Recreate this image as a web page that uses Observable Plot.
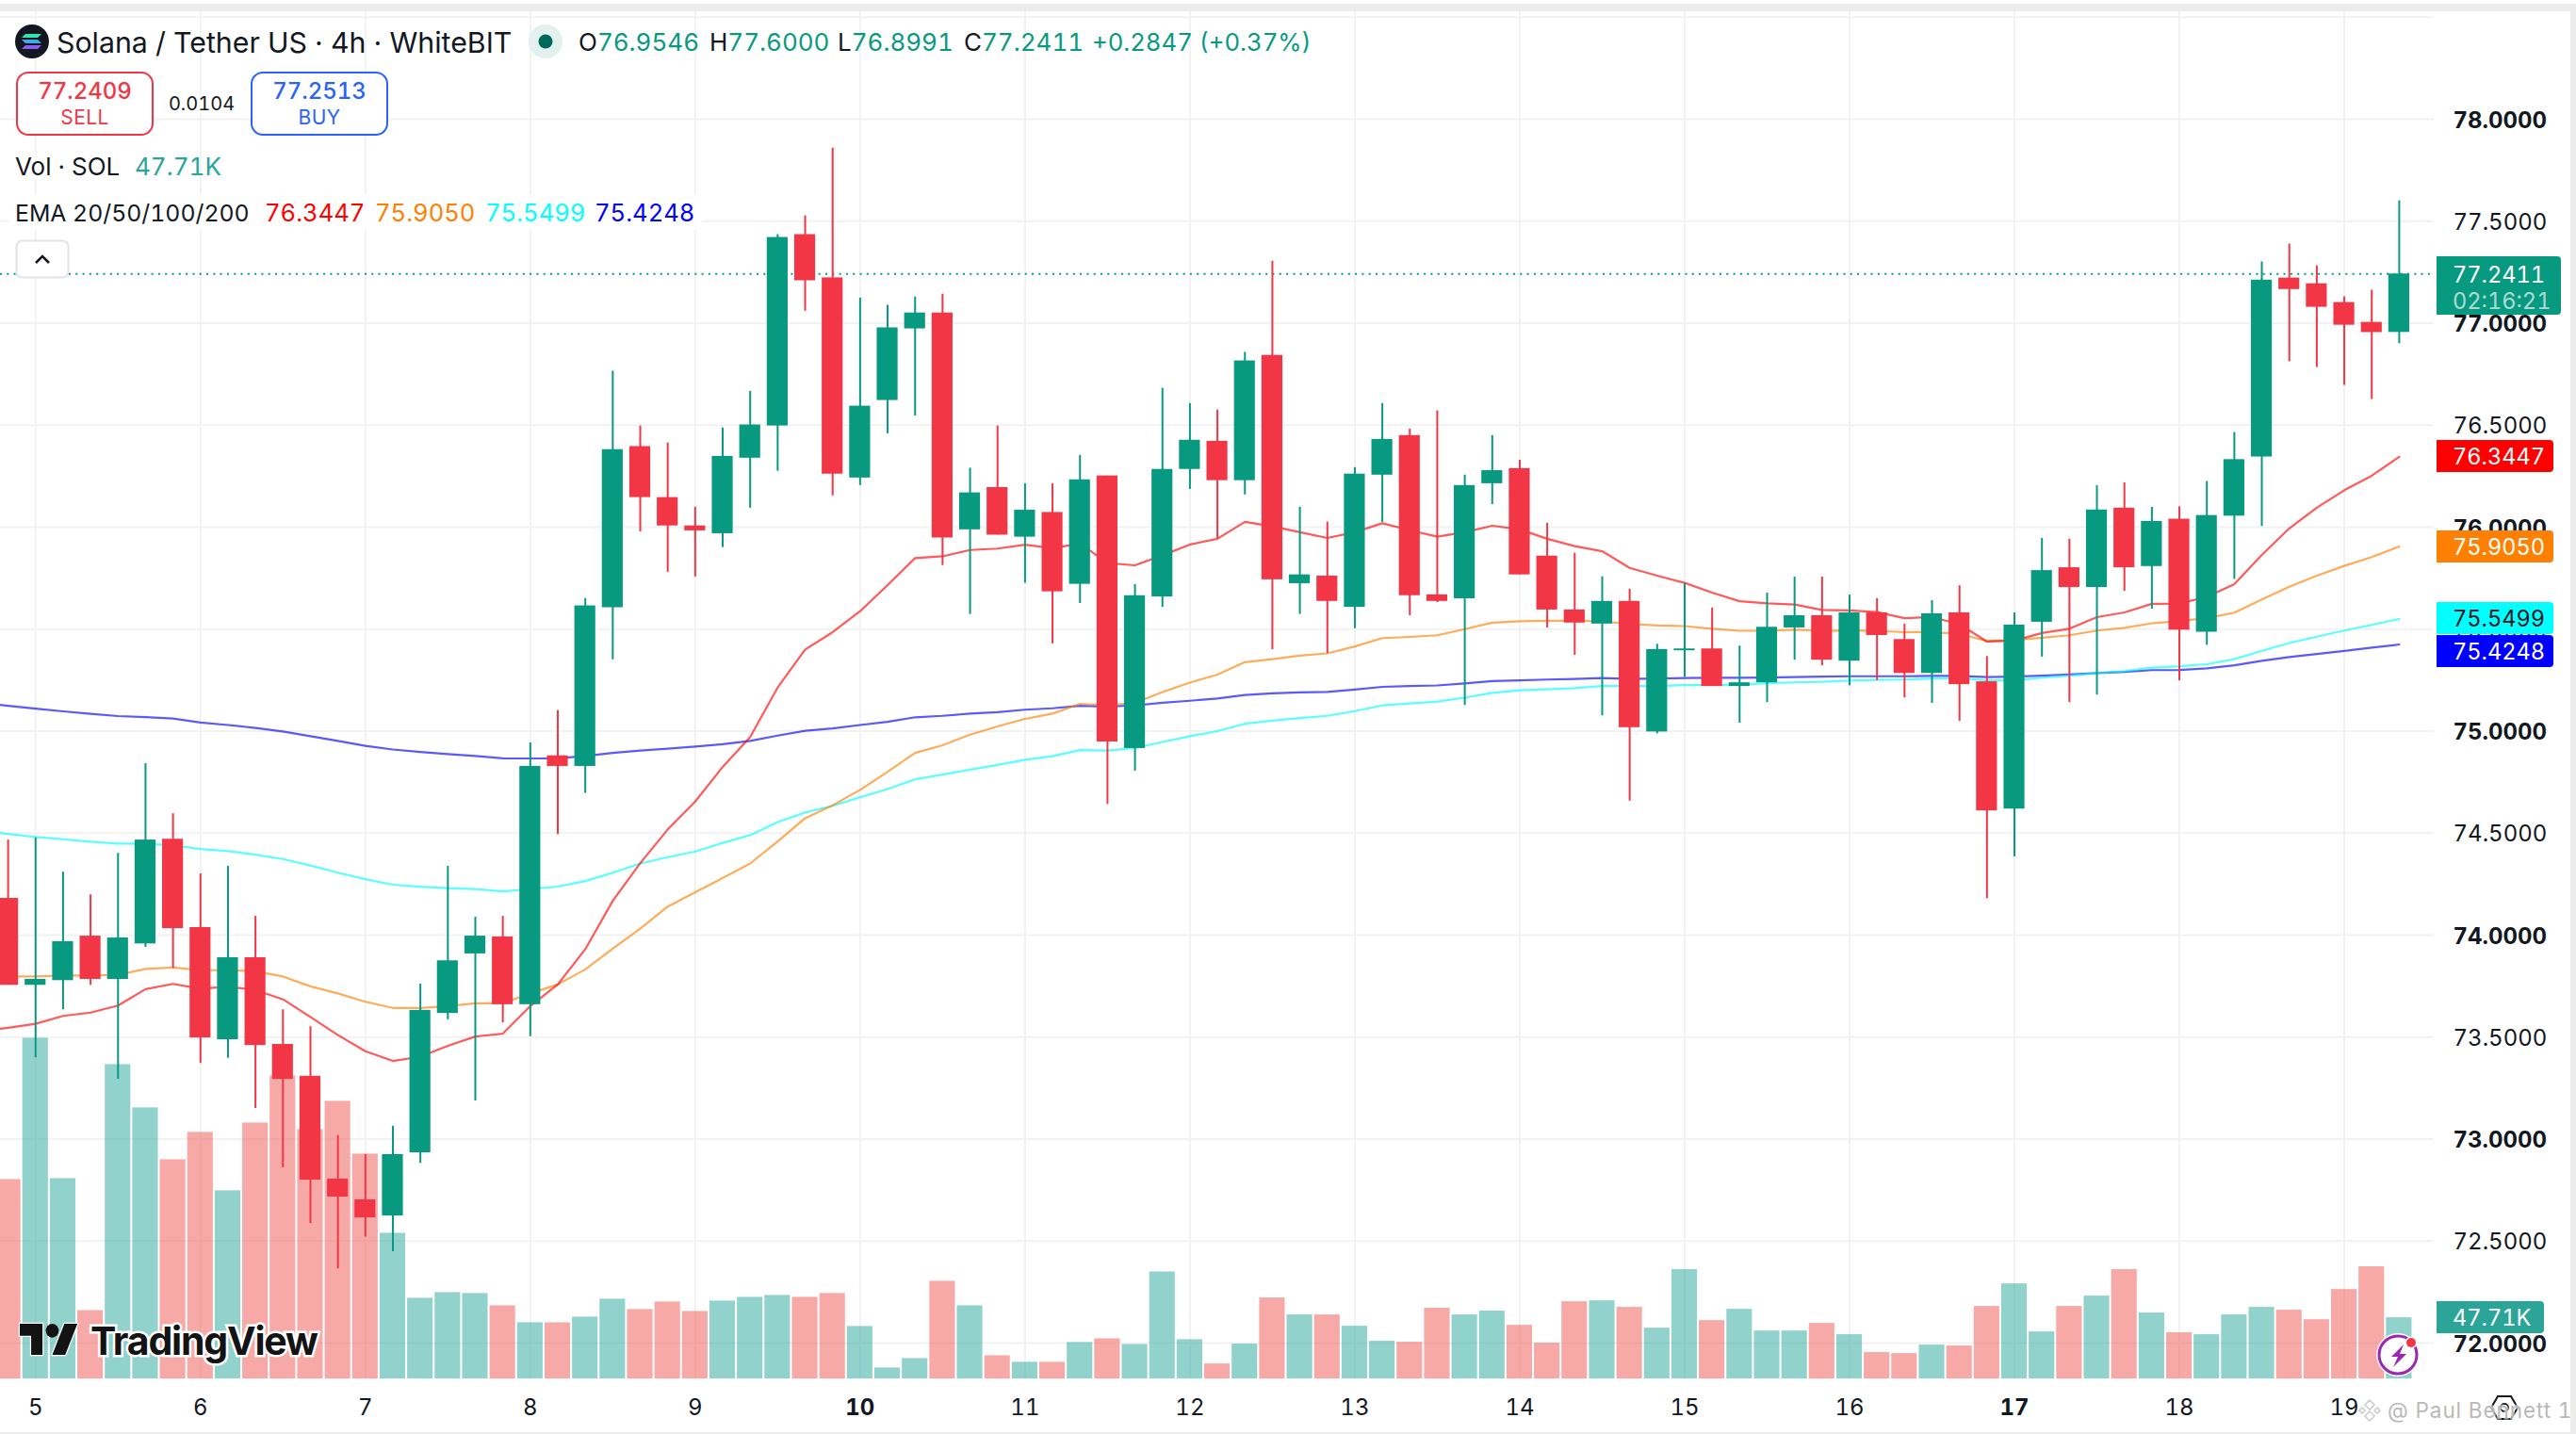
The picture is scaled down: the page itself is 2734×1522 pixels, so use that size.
<!DOCTYPE html>
<html>
<head>
<meta charset="utf-8">
<script src="https://cdn.jsdelivr.net/npm/d3@7"></script>
<script src="https://cdn.jsdelivr.net/npm/@observablehq/plot@0.6"></script>
<style>
html,body{margin:0;padding:0;background:#fff;overflow:hidden}
#page{position:relative;width:2734px;height:1522px;overflow:hidden;font-family:Inter,"Noto Sans",sans-serif;color:#131722;background:#fff;font-variant-numeric:tabular-nums;font-feature-settings:"tnum"}
#page svg text{font-variant-numeric:tabular-nums;font-feature-settings:"tnum"}
#page svg.plot{position:absolute;left:0;top:0;background:transparent}
.a{position:absolute;white-space:nowrap;line-height:1}
.band{position:absolute;background:#ececec}
.box{position:absolute;box-sizing:border-box;border:2.5px solid;border-radius:13px;background:#fff;text-align:center;top:76px;height:68px;width:146px}
.tag{position:absolute;left:2586px;height:34px;width:124px;border-radius:0 4px 4px 0;color:#fff;font-size:23.6px;line-height:36px;padding-left:17px;box-sizing:border-box}
</style>
</head>
<body>
<div id="page"></div>
<script>
const dayLabels = ["5","6","7","8","9","10","11","12","13","14","15","16","17","18","19"];
const boldDays = ["10","17"];
const priceTicksMajor = [78,77,76,75,74,73,72];
const priceTicksMinor = [77.5,76.5,75.5,74.5,73.5,72.5];
const extraGrid = [78.5];

const opens = [74.180,73.754,73.777,73.995,73.783,73.957,74.470,74.037,73.487,73.889,73.464,73.308,72.804,72.702,72.623,72.933,73.616,73.908,73.991,73.659,
74.879,74.827,75.605,76.395,76.145,76.006,75.968,76.338,76.496,77.434,77.222,76.241,76.621,76.972,77.050,75.987,76.194,75.951,76.072,75.720,
76.251,74.915,75.658,76.283,76.421,76.228,76.842,75.723,75.760,75.607,76.255,76.449,75.668,75.649,76.213,76.287,75.858,75.594,75.525,75.636,
74.996,75.394,75.403,75.219,75.237,75.506,75.566,75.343,75.580,75.449,75.283,75.580,75.242,74.618,75.534,75.801,75.704,76.093,75.807,76.039,
75.485,76.054,76.344,77.221,77.193,77.101,77.004,76.9546];
const closes = [73.754,73.783,73.968,73.783,73.986,74.466,74.032,73.496,73.889,73.459,73.293,72.799,72.716,72.614,72.924,73.631,73.874,73.995,73.659,74.827,
74.827,75.614,76.380,76.145,76.006,75.982,76.347,76.501,77.420,77.208,76.260,76.593,76.977,77.050,75.947,76.168,75.961,76.083,75.683,76.232,
74.947,75.664,76.283,76.426,76.228,76.815,75.742,75.766,75.636,76.260,76.430,75.664,75.636,76.204,76.277,75.766,75.594,75.530,75.636,75.017,
75.400,75.403,75.219,75.237,75.509,75.566,75.348,75.580,75.469,75.283,75.575,75.228,74.609,75.520,75.787,75.704,76.084,75.801,76.028,75.495,
76.057,76.331,77.211,77.165,77.078,76.990,76.954,77.2411];
const highs = [74.466,74.477,74.309,74.198,74.401,74.841,74.595,74.300,74.337,74.092,73.634,73.551,73.017,72.924,73.063,73.760,74.337,74.088,74.092,74.942,
75.101,75.650,76.765,76.496,76.413,76.098,76.486,76.666,77.434,77.526,77.858,77.123,77.088,77.128,77.142,76.289,76.496,76.213,76.213,76.352,
76.251,75.719,76.681,76.606,76.574,76.857,77.304,76.098,76.025,76.292,76.606,76.481,76.570,76.255,76.449,76.328,76.019,75.872,75.757,75.696,
75.426,75.723,75.603,75.417,75.677,75.755,75.755,75.667,75.649,75.524,75.640,75.713,75.366,75.580,75.945,75.941,76.203,76.217,76.097,76.100,
76.224,76.464,77.300,77.388,77.281,77.129,77.162,77.6000];
const lows = [73.754,73.399,73.634,73.754,73.293,73.940,73.837,73.371,73.396,73.150,72.860,72.586,72.364,72.520,72.448,72.881,73.585,73.187,73.570,73.502,
74.493,74.695,75.350,75.977,75.779,75.756,75.900,76.093,76.274,77.059,76.154,76.204,76.458,76.545,75.812,75.572,75.961,75.725,75.428,75.626,
74.641,74.804,75.607,76.185,75.943,76.158,75.400,75.572,75.381,75.502,76.023,75.566,75.630,75.126,76.111,75.766,75.506,75.372,75.075,74.657,
74.987,75.265,75.219,75.039,75.140,75.348,75.320,75.223,75.248,75.163,75.136,75.048,74.179,74.383,75.363,75.140,75.177,75.686,75.598,75.246,
75.421,75.744,76.004,76.811,76.783,76.695,76.626,76.8991];
const volumesK = [155.4,265.5,156.1,53.3,244.9,211.2,170.8,192.1,146.6,199.4,236.1,194.3,216.3,175.2,113.5,62.9,67.3,66.6,57.0,43.8,
43.8,48.2,62.2,54.1,60.0,52.6,60.7,63.6,65.1,63.6,66.6,40.9,8.6,15.9,76.1,57.0,18.1,13.0,13.0,28.4,
31.3,26.9,83.4,30.6,11.7,27.2,63.1,49.9,49.9,41.1,29.4,28.6,55.1,49.9,52.9,41.8,27.9,60.2,60.9,55.8,
39.6,85.2,45.5,54.3,37.4,37.4,43.3,34.5,20.6,19.8,26.4,25.7,56.5,74.1,36.7,56.5,64.6,85.2,51.4,36.0,
34.5,49.9,55.8,53.6,46.2,69.7,87.4,47.71];
const ema20 = [73.546,73.565,73.604,73.620,73.655,73.735,73.761,73.737,73.747,73.731,73.685,73.599,73.510,73.431,73.383,73.404,73.457,73.503,73.517,73.652,
73.758,73.931,74.168,74.353,74.518,74.655,74.825,74.971,75.214,75.400,75.485,75.588,75.716,75.848,75.857,75.888,75.895,75.914,75.897,75.920,
75.824,75.813,75.862,75.915,75.943,76.026,76.004,75.975,75.947,75.975,76.019,75.985,75.953,75.975,76.007,75.989,75.943,75.907,75.882,75.800,
75.762,75.727,75.679,75.637,75.626,75.621,75.594,75.592,75.584,75.554,75.559,75.524,75.439,75.444,75.481,75.502,75.559,75.582,75.624,75.625,
75.658,75.721,75.864,75.994,76.095,76.181,76.252,76.3447];
const ema50 = [73.797,73.797,73.802,73.802,73.805,73.834,73.841,73.828,73.828,73.823,73.797,73.749,73.714,73.673,73.643,73.643,73.652,73.666,73.666,73.714,
73.758,73.832,73.934,74.032,74.140,74.210,74.280,74.351,74.459,74.573,74.636,74.712,74.801,74.893,74.931,74.983,75.023,75.060,75.086,75.134,
75.126,75.139,75.192,75.238,75.277,75.338,75.353,75.370,75.381,75.415,75.456,75.462,75.470,75.500,75.532,75.539,75.541,75.541,75.538,75.526,
75.518,75.515,75.502,75.492,75.492,75.497,75.492,75.494,75.492,75.485,75.486,75.476,75.442,75.446,75.458,75.470,75.493,75.506,75.529,75.540,
75.554,75.581,75.645,75.708,75.762,75.810,75.853,75.9050];
const ema100 = [74.496,74.481,74.470,74.458,74.449,74.449,74.440,74.422,74.412,74.394,74.373,74.341,74.306,74.274,74.247,74.237,74.230,74.226,74.214,74.226,
74.238,74.265,74.306,74.351,74.382,74.410,74.452,74.490,74.554,74.601,74.634,74.676,74.716,74.764,74.787,74.811,74.834,74.860,74.877,74.907,
74.905,74.917,74.947,74.975,75.000,75.036,75.051,75.064,75.075,75.098,75.126,75.136,75.145,75.164,75.188,75.200,75.205,75.211,75.221,75.221,
75.221,75.226,75.226,75.228,75.235,75.239,75.242,75.248,75.251,75.253,75.258,75.260,75.249,75.249,75.262,75.272,75.285,75.294,75.311,75.318,
75.328,75.353,75.394,75.432,75.463,75.493,75.521,75.5499];
const ema200 = [75.124,75.110,75.097,75.085,75.074,75.069,75.062,75.042,75.030,75.016,74.998,74.975,74.952,74.928,74.910,74.898,74.887,74.878,74.867,74.866,
74.867,74.878,74.893,74.905,74.914,74.924,74.936,74.952,74.978,75.002,75.013,75.030,75.046,75.068,75.075,75.086,75.093,75.105,75.112,75.124,
75.120,75.126,75.139,75.149,75.160,75.177,75.185,75.190,75.192,75.204,75.217,75.221,75.224,75.234,75.245,75.249,75.253,75.256,75.260,75.256,
75.258,75.260,75.262,75.262,75.263,75.265,75.267,75.269,75.269,75.269,75.271,75.271,75.265,75.267,75.272,75.278,75.285,75.290,75.299,75.300,
75.308,75.323,75.345,75.363,75.378,75.393,75.409,75.4248];
// EMA readings for the bar just left of the picture edge, so the lines run off the left side
const emaBefore = {k: -1, ema20: 73.53, ema50: 73.80, ema100: 74.51, ema200: 75.14};
const lastPrice = 77.2411;
const volumeBase = 71.824;   // price level the volume pane sits on
const priceUnitsPerK = 0.006293;

const UP = "#089981", DOWN = "#f23645", VOL_UP = "#26a69a", VOL_DOWN = "#ef5350", INK = "#131722", GRID = "#f2f2f2";
const FONT = 'Inter, "Noto Sans", sans-serif';

const bars = opens.map((open, k) => ({k, open, close: closes[k], high: highs[k], low: lows[k],
  vol: volumesK[k], ema20: ema20[k], ema50: ema50[k], ema100: ema100[k], ema200: ema200[k],
  up: closes[k] >= open}));
const emaRows = [emaBefore, ...bars];
const dayTick = d => 1 + 6 * dayLabels.indexOf(d);
const dayFormat = k => dayLabels[(k - 1) / 6];
const dayTicks = dayLabels.filter(d => !boldDays.includes(d)).map(dayTick);
const boldTicks = boldDays.map(dayTick);
const fmt = d3.format(".4f");
const axisCommon = {tickSize: 0, fontSize: 24, fontFamily: FONT, label: null};

const emaLine = (key, stroke) => Plot.line(emaRows, {x: "k", y: key, stroke, strokeOpacity: 0.65, strokeWidth: 2.2, curve: "linear"});

const chart = Plot.plot({
  width: 2734, height: 1522,
  marginTop: 12, marginRight: 151, marginBottom: 59, marginLeft: 0,
  style: {background: "transparent", overflow: "hidden"},
  x: {domain: [0, 87], range: [8.1, 2545.9], axis: null},
  y: {domain: [72, 78], range: [1425, 126], axis: null},
  marks: [
    Plot.gridX([...dayTicks, ...boldTicks], {stroke: GRID, strokeOpacity: 1, strokeWidth: 2}),
    Plot.gridY([...extraGrid, ...priceTicksMajor, ...priceTicksMinor], {stroke: GRID, strokeOpacity: 1, strokeWidth: 2}),
    Plot.rect(bars, {x1: d => d.k - 0.465, x2: d => d.k + 0.465, y1: volumeBase,
      y2: d => volumeBase + d.vol * priceUnitsPerK,
      fill: d => d.up ? VOL_UP : VOL_DOWN, fillOpacity: 0.5}),
    emaLine("ema200", "#0000ff"),
    emaLine("ema100", "#00ffff"),
    emaLine("ema50", "#ff8000"),
    emaLine("ema20", "#ff0000"),
    Plot.ruleY([lastPrice], {stroke: UP, strokeWidth: 2, strokeDasharray: "2,5.3"}),
    Plot.ruleX(bars, {x: "k", y1: "low", y2: "high", stroke: d => d.up ? UP : DOWN, strokeWidth: 2}),
    Plot.rect(bars, {x1: d => d.k - 0.38, x2: d => d.k + 0.38,
      y1: d => Math.min(d.open, d.close), y2: d => Math.max(d.open, d.close),
      fill: d => d.up ? UP : DOWN}),
    Plot.axisY(priceTicksMinor, {...axisCommon, anchor: "right", tickPadding: 20, dy: 1.5, tickFormat: fmt, fill: INK}),
    Plot.axisY(priceTicksMajor, {...axisCommon, anchor: "right", tickPadding: 20, dy: 1.5, tickFormat: fmt, fill: INK, fontWeight: 700}),
    Plot.axisX(dayTicks, {...axisCommon, anchor: "bottom", tickPadding: 21, tickFormat: dayFormat, fill: INK}),
    Plot.axisX(boldTicks, {...axisCommon, anchor: "bottom", tickPadding: 21, tickFormat: dayFormat, fill: INK, fontWeight: 700})
  ]
});
const page = document.getElementById("page");
page.appendChild(chart);

const yScale = chart.scale("y");
function el(html){const t=document.createElement("div");t.innerHTML=html.trim();const n=t.firstChild;page.appendChild(n);return n;}
const T=(x,cy,size,color,txt,extra="")=>el(`<div class="a" style="left:${x}px;top:${cy}px;transform:translateY(-50%);font-size:${size}px;color:${color};${extra}">${txt}</div>`);

// frame
el(`<div class="band" style="left:0;top:4px;width:2734px;height:8px"></div>`);
el(`<div class="band" style="left:0;top:1520px;width:2734px;height:2px"></div>`);
el(`<div class="band" style="left:2728px;top:4px;width:6px;height:1518px"></div>`);

// header
el(`<svg style="position:absolute;left:16px;top:26px" width="36" height="36" viewBox="0 0 36 36"><circle cx="18" cy="18" r="18" fill="#131722"/><path d="M11 10h17l-4 4H7z" fill="#2ee6b0"/><path d="M7 16h17l4 4H11z" fill="#45a6e6"/><path d="M11 22h17l-4 4H7z" fill="#8a5cf0"/></svg>`);
T(60,45,30.3,INK,"Solana / Tether US · 4h · WhiteBIT");
el(`<svg style="position:absolute;left:561px;top:26px" width="36" height="36"><circle cx="18" cy="18" r="18" fill="#e3f1ee"/><circle cx="18" cy="18" r="7.5" fill="#00695c"/></svg>`);
const ohlc = [["O","76.9546",614],["H","77.6000",753],["L","76.8991",889],["C","77.2411",1023]];
ohlc.forEach(([l,v,x])=>T(x,45,26,INK,`${l}<span style="color:${UP}">${v}</span>`));
T(1159,45,25.7,UP,"+0.2847 (+0.37%)");

// sell / buy
el(`<div class="box" style="left:17px;border-color:${DOWN};color:${DOWN}"><div style="font-size:24px;font-weight:500;line-height:24px;margin-top:7px">77.2409</div><div style="font-size:21px;line-height:21px;margin-top:5px;letter-spacing:.4px">SELL</div></div>`);
el(`<div class="a" style="left:214px;top:110px;transform:translate(-50%,-50%);font-size:20px;color:${INK};background:#fff">0.0104</div>`);
el(`<div class="box" style="left:266px;border-color:#2962ff;color:#2962ff"><div style="font-size:24px;font-weight:500;line-height:24px;margin-top:7px">77.2513</div><div style="font-size:21px;line-height:21px;margin-top:5px;letter-spacing:.4px">BUY</div></div>`);

// legend rows
T(16,177,26,INK,"Vol · SOL","background:rgba(255,255,255,.8);");
T(143,177,26,"#2ba597","47.71K");
el(`<div class="a" style="left:10px;top:206px;width:735px;height:38px;background:rgba(255,255,255,.85)"></div>`);
T(16,226,24.8,INK,"EMA 20/50/100/200");
[["76.3447","#ff0000",281],["75.9050","#ff8000",398],["75.5499","#00ffff",515],["75.4248","#0000ff",631]]
  .forEach(([v,c,x])=>T(x,226,25.6,c,v));
el(`<svg style="position:absolute;left:16px;top:254px" width="58" height="42"><rect x="1.5" y="1.5" width="55" height="39" rx="6" fill="#fff" stroke="#e0e3eb" stroke-width="2"/><path d="M22 25l7-7 7 7" fill="none" stroke="#131722" stroke-width="2.6"/></svg>`);

// price tags, placed through the chart's own y scale
const tagY = v => yScale.apply(v);
el(`<div class="tag" style="top:${tagY(lastPrice)-18}px;width:132px;height:62px;background:${UP};line-height:30px;padding-top:5px">77.2411<div style="color:rgba(255,255,255,.68);line-height:26px">02:16:21</div></div>`);
[["76.3447","#ff0000","#fff",76.3447,0],["75.9050","#ff8000","#fff",75.9050,0],["75.5499","#00ffff","#131722",75.5499,0],["75.4248","#0000ff","#fff",75.4248,7]]
  .forEach(([t,bg,fg,v,off])=>el(`<div class="tag" style="top:${tagY(v)-17+off}px;background:${bg};color:${fg}">${t}</div>`));
el(`<div class="tag" style="top:${tagY(volumeBase+47.71*priceUnitsPerK)-17}px;width:114px;background:#2ba597">47.71K</div>`);

// TradingView mark
el(`<svg style="position:absolute;left:21px;top:1405px;overflow:visible" width="62" height="33" viewBox="0 4 36 18" preserveAspectRatio="none"><path d="M14 22H7V11H0V4h14v18zM28 22h-8l7.5-18h8L28 22z" fill="#131313" stroke="#fff" stroke-width="1.4" paint-order="stroke"/><circle cx="20" cy="8" r="4" fill="#131313"/></svg>`);
T(96,1423,41,"#131313","TradingView","font-weight:700;letter-spacing:-1.2px;-webkit-text-stroke:5px #fff;paint-order:stroke fill;");

// lightning badge
el(`<svg style="position:absolute;left:2518px;top:1412px" width="56" height="56" viewBox="0 0 56 56"><circle cx="27" cy="26" r="23" fill="#fff"/><circle cx="27" cy="26" r="20" fill="none" stroke="#9c27b0" stroke-width="3"/><path d="M33 15L20 28h7l-5 11 14-14h-7z" fill="#9c27b0"/><circle cx="41" cy="13" r="6.5" fill="#fff"/><circle cx="41" cy="13" r="5" fill="#f23645"/></svg>`);

// bottom watermark and settings hexagon
el(`<svg style="position:absolute;left:2642px;top:1480px" width="32" height="28"><path d="M9 2h14l7 12-7 12H9L2 14z" fill="none" stroke="#131722" stroke-width="2"/><circle cx="16" cy="14" r="4" fill="none" stroke="#131722" stroke-width="2"/></svg>`);
el(`<svg style="position:absolute;left:2503px;top:1485px" width="24" height="24" viewBox="0 0 24 24"><path d="M12 1l5 5-5 5-5-5zM4 9l3 3-3 3-3-3zM20 9l3 3-3 3-3-3zM12 13l5 5-5 5-5-5z" fill="none" stroke="#cfcfcf" stroke-width="1.6"/></svg>`);
T(2534,1497,22.5,"#b9b9b9","@ Paul Bennett 1","letter-spacing:.9px;-webkit-text-stroke:3px rgba(255,255,255,.55);paint-order:stroke fill;");
</script>
</body>
</html>
